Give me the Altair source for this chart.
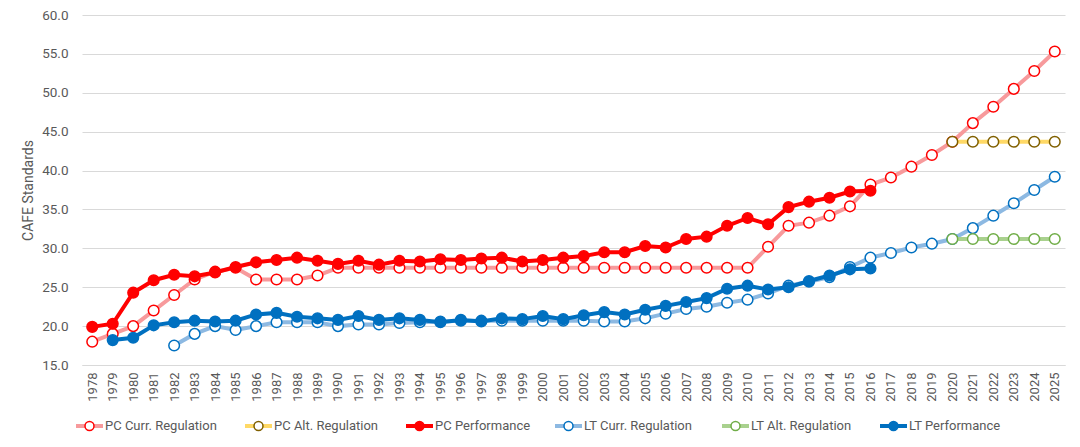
import altair as alt
import pandas as pd

# ---- data ----
years = [1978, 1979, 1980, 1981, 1982, 1983, 1984, 1985, 1986, 1987, 1988, 1989,
         1990, 1991, 1992, 1993, 1994, 1995, 1996, 1997, 1998, 1999, 2000, 2001,
         2002, 2003, 2004, 2005, 2006, 2007, 2008, 2009, 2010, 2011, 2012, 2013,
         2014, 2015, 2016, 2017, 2018, 2019, 2020, 2021, 2022, 2023, 2024, 2025]

series_names = ["PC Curr. Regulation", "PC Alt. Regulation", "PC Performance",
                "LT Curr. Regulation", "LT Alt. Regulation", "LT Performance"]

# first model year of each series
pc_curr_start = 1978
pc_curr = [18.0, 19.0, 20.0, 22.0, 24.0, 26.0, 27.0, 27.5, 26.0, 26.0, 26.0, 26.5,
           27.5, 27.5, 27.5, 27.5, 27.5, 27.5, 27.5, 27.5, 27.5, 27.5, 27.5, 27.5,
           27.5, 27.5, 27.5, 27.5, 27.5, 27.5, 27.5, 27.5, 27.5, 30.2, 32.9, 33.3,
           34.2, 35.4, 38.2, 39.1, 40.5, 42.0, 43.7, 46.1, 48.2, 50.5, 52.8, 55.3]

pc_alt_start = 2020
pc_alt = [43.7, 43.7, 43.7, 43.7, 43.7, 43.7]

pc_perf_start = 1978
pc_perf = [19.9, 20.3, 24.3, 25.9, 26.6, 26.4, 26.9, 27.6, 28.2, 28.5, 28.8, 28.4,
           28.0, 28.4, 27.9, 28.4, 28.3, 28.6, 28.5, 28.7, 28.8, 28.3, 28.5, 28.8,
           29.0, 29.5, 29.5, 30.3, 30.1, 31.2, 31.5, 32.9, 33.9, 33.1, 35.3, 36.0,
           36.5, 37.3, 37.4]

lt_curr_start = 1982
lt_curr = [17.5, 19.0, 20.0, 19.5, 20.0, 20.5, 20.5, 20.5, 20.0, 20.2, 20.2, 20.4,
           20.5, 20.6, 20.7, 20.7, 20.7, 20.7, 20.7, 20.7, 20.7, 20.6, 20.6, 21.0,
           21.6, 22.2, 22.5, 23.0, 23.4, 24.2, 25.2, 25.7, 26.3, 27.6, 28.8, 29.4,
           30.1, 30.6, 31.2, 32.6, 34.2, 35.8, 37.5, 39.2]

lt_alt_start = 2020
lt_alt = [31.2, 31.2, 31.2, 31.2, 31.2, 31.2]

lt_perf_start = 1979
lt_perf = [18.2, 18.5, 20.1, 20.5, 20.7, 20.6, 20.7, 21.5, 21.7, 21.2, 21.0, 20.8,
           21.3, 20.8, 21.0, 20.8, 20.5, 20.8, 20.6, 21.0, 20.9, 21.3, 20.9, 21.4,
           21.8, 21.5, 22.1, 22.6, 23.1, 23.6, 24.8, 25.2, 24.7, 25.0, 25.8, 26.5,
           27.3, 27.4]

line_colors = ["#F79A9C", "#FFD966", "#FF0000", "#8DB9E2", "#A9D18E", "#0070C0"]
marker_strokes = ["#FF0000", "#806000", "#FF0000", "#0070C0", "#70AD47", "#0070C0"]
marker_fills = ["#FFFFFF", "#FFFFFF", "#FF0000", "#FFFFFF", "#FFFFFF", "#0070C0"]

# legend entry placement (px from the plot's left edge), as in the reference
legend_x = [-8, 161, 322, 471, 638, 796]
LEGEND_Y = 395.5

# ---- long table ----
starts = [pc_curr_start, pc_alt_start, pc_perf_start, lt_curr_start, lt_alt_start, lt_perf_start]
values = [pc_curr, pc_alt, pc_perf, lt_curr, lt_alt, lt_perf]
rows = []
for name, start, vals in zip(series_names, starts, values):
    i0 = years.index(start)
    for yr, v in zip(years[i0:], vals):
        rows.append({"year": yr, "series": name, "value": v})
df = pd.DataFrame(rows)

FONT = "Roboto"
GREY = "#595959"

x_enc = alt.X("year:O", scale=alt.Scale(type="point", padding=0.5, domain=years),
              axis=alt.Axis(title=None, labelAngle=270, labelFontSize=13, labelColor=GREY,
                            labelFont=FONT, labelPadding=7, ticks=False, tickSize=0,
                            domain=True, domainColor="#D9D9D9", domainWidth=1, grid=False))
y_enc = alt.Y("value:Q", scale=alt.Scale(domain=[15, 60], nice=False, zero=False),
              axis=alt.Axis(title="CAFE Standards", values=[15, 20, 25, 30, 35, 40, 45, 50, 55, 60],
                            format=".1f", labelFontSize=13.5, labelColor=GREY, labelFont=FONT,
                            labelPadding=14, ticks=False, tickSize=0, domain=False,
                            grid=True, gridColor="#D9D9D9", gridWidth=1,
                            titleFont=FONT, titleFontSize=14, titleFontWeight="normal",
                            titleColor=GREY, titlePadding=6))

circle_path = "M-0.305,0A0.305,0.305,0,1,1,0.305,0A0.305,0.305,0,1,1,-0.305,0Z"

base = alt.Chart(df)
layers = []
for name, lc, ms, mf, lx in zip(series_names, line_colors, marker_strokes, marker_fills, legend_x):
    sel = base.transform_filter(alt.datum.series == name)
    common = dict(orient="none", legendX=lx, legendY=LEGEND_Y, title=None, padding=0,
                  labelFont=FONT, labelFontSize=13, labelColor=GREY, labelOffset=0)
    line_legend = alt.Legend(symbolType="stroke", symbolSize=729, symbolStrokeWidth=4, **common)
    mark_legend = alt.Legend(symbolType=circle_path, symbolSize=870.25, symbolStrokeWidth=1.5,
                             symbolOpacity=1, labelExpr="''", **common)
    layers.append(
        sel.mark_line(strokeWidth=4, opacity=1).encode(
            x=x_enc, y=y_enc,
            color=alt.Color("series:N", scale=alt.Scale(domain=[name], range=[lc]), legend=line_legend),
        )
    )
    layers.append(
        sel.mark_point(filled=True, size=113, strokeWidth=1.5, opacity=1).encode(
            x=x_enc, y=y_enc,
            stroke=alt.Stroke("series:N", scale=alt.Scale(domain=[name], range=[ms]), legend=mark_legend),
            fill=alt.Fill("series:N", scale=alt.Scale(domain=[name], range=[mf]), legend=mark_legend),
        )
    )

chart = alt.layer(*layers).resolve_scale(
    color="independent", stroke="independent", fill="independent"
).resolve_legend(
    color="independent", stroke="independent", fill="independent"
).properties(
    width=983, height=350,
    autosize=alt.AutoSizeParams(type="none"),
    padding={"left": 74, "top": 7, "right": 5, "bottom": 80},
).configure_view(strokeWidth=0)

chart.save("out.html", embed_options={"renderer": "svg", "actions": False})
